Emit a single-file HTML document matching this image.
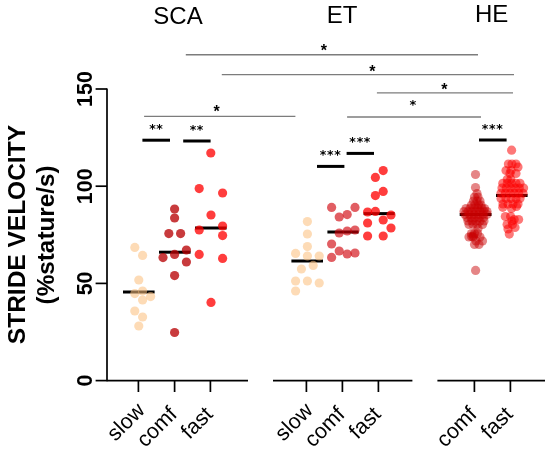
<!DOCTYPE html><html><head><meta charset="utf-8"><style>html,body{margin:0;padding:0;background:#fff;}svg{display:block;}text{font-family:"Liberation Sans",Arial,sans-serif;} text.st{font-family:"DejaVu Sans",sans-serif;font-weight:bold;}</style></head><body>
<svg width="550" height="451" viewBox="0 0 550 451">
<text x="178" y="24" font-size="24" text-anchor="middle" fill="#000">SCA</text>
<text x="342.2" y="23.4" font-size="24" text-anchor="middle" fill="#000">ET</text>
<text x="491.7" y="22" font-size="24" text-anchor="middle" fill="#000">HE</text>
<g transform="translate(25.4,234.6) rotate(-90)"><text x="0" y="0" font-size="24.5" font-weight="bold" text-anchor="middle">STRIDE VELOCITY</text></g>
<g transform="translate(53.5,234.9) rotate(-90)"><text x="0" y="0" font-size="24.3" font-weight="bold" text-anchor="middle">(%stature/s)</text></g>
<line x1="95.6" y1="89" x2="107" y2="89" stroke="#000" stroke-width="1.7"/>
<g transform="translate(92,89) rotate(-90)"><text x="0" y="0" font-size="21.5" font-weight="bold" text-anchor="middle">150</text></g>
<line x1="95.6" y1="186.2" x2="107" y2="186.2" stroke="#000" stroke-width="1.7"/>
<g transform="translate(92,186.2) rotate(-90)"><text x="0" y="0" font-size="21.5" font-weight="bold" text-anchor="middle">100</text></g>
<line x1="95.6" y1="283.4" x2="107" y2="283.4" stroke="#000" stroke-width="1.7"/>
<g transform="translate(92,283.4) rotate(-90)"><text x="0" y="0" font-size="21.5" font-weight="bold" text-anchor="middle">50</text></g>
<line x1="95.6" y1="380.6" x2="107" y2="380.6" stroke="#000" stroke-width="1.7"/>
<g transform="translate(92,380.6) rotate(-90)"><text x="0" y="0" font-size="21.5" font-weight="bold" text-anchor="middle">0</text></g>
<line x1="107" y1="88.4" x2="107" y2="381.2" stroke="#000" stroke-width="1.7"/>
<line x1="107" y1="380.6" x2="248" y2="380.6" stroke="#000" stroke-width="1.7"/>
<line x1="273" y1="380.6" x2="412.4" y2="380.6" stroke="#000" stroke-width="1.7"/>
<line x1="437.4" y1="380.6" x2="545" y2="380.6" stroke="#000" stroke-width="1.7"/>
<line x1="138.4" y1="380.6" x2="138.4" y2="392" stroke="#000" stroke-width="1.7"/>
<line x1="174.6" y1="380.6" x2="174.6" y2="392" stroke="#000" stroke-width="1.7"/>
<line x1="210.4" y1="380.6" x2="210.4" y2="392" stroke="#000" stroke-width="1.7"/>
<line x1="306.4" y1="380.6" x2="306.4" y2="392" stroke="#000" stroke-width="1.7"/>
<line x1="342.4" y1="380.6" x2="342.4" y2="392" stroke="#000" stroke-width="1.7"/>
<line x1="378.4" y1="380.6" x2="378.4" y2="392" stroke="#000" stroke-width="1.7"/>
<line x1="474.4" y1="380.6" x2="474.4" y2="392" stroke="#000" stroke-width="1.7"/>
<line x1="510.4" y1="380.6" x2="510.4" y2="392" stroke="#000" stroke-width="1.7"/>
<g transform="translate(145.9,411.5) rotate(-45)"><text x="0" y="0" font-size="21.5" text-anchor="end">slow</text></g>
<g transform="translate(178.2,415.4) rotate(-45)"><text x="0" y="0" font-size="21.5" text-anchor="end">comf</text></g>
<g transform="translate(214.0,415.4) rotate(-45)"><text x="0" y="0" font-size="21.5" text-anchor="end">fast</text></g>
<g transform="translate(313.9,411.5) rotate(-45)"><text x="0" y="0" font-size="21.5" text-anchor="end">slow</text></g>
<g transform="translate(346.0,415.4) rotate(-45)"><text x="0" y="0" font-size="21.5" text-anchor="end">comf</text></g>
<g transform="translate(382.0,415.4) rotate(-45)"><text x="0" y="0" font-size="21.5" text-anchor="end">fast</text></g>
<g transform="translate(478.0,415.4) rotate(-45)"><text x="0" y="0" font-size="21.5" text-anchor="end">comf</text></g>
<g transform="translate(514.0,415.4) rotate(-45)"><text x="0" y="0" font-size="21.5" text-anchor="end">fast</text></g>
<line x1="185.8" y1="54.7" x2="478" y2="54.7" stroke="#7c7c7c" stroke-width="1.4"/>
<line x1="221.8" y1="74.6" x2="514" y2="74.6" stroke="#7c7c7c" stroke-width="1.4"/>
<line x1="376.9" y1="92.85" x2="513" y2="92.85" stroke="#7c7c7c" stroke-width="1.4"/>
<line x1="144.1" y1="116.4" x2="295.4" y2="116.4" stroke="#7c7c7c" stroke-width="1.4"/>
<line x1="347.1" y1="117.0" x2="481" y2="117.0" stroke="#7c7c7c" stroke-width="1.4"/>
<text x="323.8" y="56.26" font-weight="bold" font-size="16" text-anchor="middle">*</text>
<text x="372.4" y="77.06" font-weight="bold" font-size="16" text-anchor="middle">*</text>
<text x="444.4" y="95.16" font-weight="bold" font-size="16" text-anchor="middle">*</text>
<text x="216.7" y="117.06" font-weight="bold" font-size="16" text-anchor="middle">*</text>
<text x="413" y="109.37" class="st" font-size="13" text-anchor="middle">*</text>
<line x1="142.4" y1="140.2" x2="170" y2="140.2" stroke="#000" stroke-width="3"/>
<line x1="183.2" y1="141" x2="210.6" y2="141" stroke="#000" stroke-width="3"/>
<line x1="317" y1="166.4" x2="344.4" y2="166.4" stroke="#000" stroke-width="3"/>
<line x1="346.6" y1="153.4" x2="374" y2="153.4" stroke="#000" stroke-width="3"/>
<line x1="479" y1="140" x2="506.6" y2="140" stroke="#000" stroke-width="3"/>
<text x="152.4" y="132.82" class="st" font-size="12.5" text-anchor="middle">*</text>
<text x="159.5" y="132.82" class="st" font-size="12.5" text-anchor="middle">*</text>
<text x="193.1" y="133.53" class="st" font-size="12.5" text-anchor="middle">*</text>
<text x="200.1" y="133.53" class="st" font-size="12.5" text-anchor="middle">*</text>
<text x="323.0" y="158.82" class="st" font-size="12.5" text-anchor="middle">*</text>
<text x="330.3" y="158.82" class="st" font-size="12.5" text-anchor="middle">*</text>
<text x="337.4" y="158.82" class="st" font-size="12.5" text-anchor="middle">*</text>
<text x="352.6" y="146.22" class="st" font-size="12.5" text-anchor="middle">*</text>
<text x="359.9" y="146.22" class="st" font-size="12.5" text-anchor="middle">*</text>
<text x="367.1" y="146.22" class="st" font-size="12.5" text-anchor="middle">*</text>
<text x="485.1" y="132.62" class="st" font-size="12.5" text-anchor="middle">*</text>
<text x="492.3" y="132.62" class="st" font-size="12.5" text-anchor="middle">*</text>
<text x="499.5" y="132.62" class="st" font-size="12.5" text-anchor="middle">*</text>
<line x1="123" y1="292" x2="154.6" y2="292" stroke="#000" stroke-width="3"/>
<line x1="159" y1="252.2" x2="190.6" y2="252.2" stroke="#000" stroke-width="3"/>
<line x1="195" y1="228" x2="226.6" y2="228" stroke="#000" stroke-width="3"/>
<line x1="291.4" y1="261" x2="323" y2="261" stroke="#000" stroke-width="3"/>
<line x1="327.4" y1="232" x2="358.6" y2="232" stroke="#000" stroke-width="3"/>
<line x1="363.6" y1="213.6" x2="394.6" y2="213.6" stroke="#000" stroke-width="3"/>
<line x1="459.7" y1="214.4" x2="491.5" y2="214.4" stroke="#000" stroke-width="3"/>
<line x1="496" y1="195.5" x2="527.6" y2="195.5" stroke="#000" stroke-width="3"/>
<g fill="#fcbe7d" fill-opacity="0.56">
<circle cx="134.8" cy="247.4" r="4.6"/>
<circle cx="142.6" cy="255.4" r="4.6"/>
<circle cx="138.8" cy="280" r="4.6"/>
<circle cx="142.6" cy="291" r="4.6"/>
<circle cx="134.8" cy="293.6" r="4.6"/>
<circle cx="150.6" cy="296.6" r="4.6"/>
<circle cx="142.6" cy="300" r="4.6"/>
<circle cx="134.8" cy="311" r="4.6"/>
<circle cx="142.6" cy="317" r="4.6"/>
<circle cx="138.8" cy="326" r="4.6"/>
</g>
<g fill="#b80003" fill-opacity="0.77">
<circle cx="174.6" cy="209" r="4.6"/>
<circle cx="174.6" cy="218" r="4.6"/>
<circle cx="168.8" cy="233.6" r="4.6"/>
<circle cx="180.6" cy="233.6" r="4.6"/>
<circle cx="186.4" cy="250" r="4.6"/>
<circle cx="174.6" cy="254.4" r="4.6"/>
<circle cx="163" cy="257.6" r="4.6"/>
<circle cx="186.4" cy="262" r="4.6"/>
<circle cx="174.6" cy="275.6" r="4.6"/>
<circle cx="174.6" cy="332.5" r="4.6"/>
</g>
<g fill="#ff0000" fill-opacity="0.76">
<circle cx="210.8" cy="153" r="4.6"/>
<circle cx="199.2" cy="188.6" r="4.6"/>
<circle cx="222.6" cy="193" r="4.6"/>
<circle cx="211" cy="215" r="4.6"/>
<circle cx="222.6" cy="226" r="4.6"/>
<circle cx="199.2" cy="230" r="4.6"/>
<circle cx="222.6" cy="235.6" r="4.6"/>
<circle cx="199.2" cy="254.4" r="4.6"/>
<circle cx="222.6" cy="258.4" r="4.6"/>
<circle cx="211" cy="302.4" r="4.6"/>
</g>
<g fill="#fcbe7d" fill-opacity="0.56">
<circle cx="307.4" cy="221.6" r="4.6"/>
<circle cx="307.4" cy="234" r="4.6"/>
<circle cx="307.4" cy="246.6" r="4.6"/>
<circle cx="295.6" cy="253.4" r="4.6"/>
<circle cx="307.4" cy="256" r="4.6"/>
<circle cx="319.2" cy="256" r="4.6"/>
<circle cx="313.2" cy="265.4" r="4.6"/>
<circle cx="301.4" cy="269" r="4.6"/>
<circle cx="295.6" cy="281" r="4.6"/>
<circle cx="307.4" cy="281" r="4.6"/>
<circle cx="319.2" cy="283" r="4.6"/>
<circle cx="295.6" cy="291" r="4.6"/>
</g>
<g fill="#cf0008" fill-opacity="0.63">
<circle cx="331.6" cy="207.4" r="4.6"/>
<circle cx="355" cy="207.4" r="4.6"/>
<circle cx="339.2" cy="217" r="4.6"/>
<circle cx="347.2" cy="214.6" r="4.6"/>
<circle cx="339.2" cy="233" r="4.6"/>
<circle cx="347.2" cy="231" r="4.6"/>
<circle cx="355" cy="230" r="4.6"/>
<circle cx="331.6" cy="244" r="4.6"/>
<circle cx="339.2" cy="251" r="4.6"/>
<circle cx="347.2" cy="254" r="4.6"/>
<circle cx="355" cy="253" r="4.6"/>
<circle cx="331.6" cy="257.4" r="4.6"/>
</g>
<g fill="#ff0000" fill-opacity="0.76">
<circle cx="383.2" cy="170.6" r="4.6"/>
<circle cx="375.4" cy="177.4" r="4.6"/>
<circle cx="383.2" cy="191.4" r="4.6"/>
<circle cx="375.4" cy="195.6" r="4.6"/>
<circle cx="367.6" cy="212" r="4.6"/>
<circle cx="375.4" cy="211.4" r="4.6"/>
<circle cx="391" cy="215" r="4.6"/>
<circle cx="367.6" cy="223" r="4.6"/>
<circle cx="383.2" cy="220" r="4.6"/>
<circle cx="391" cy="228" r="4.6"/>
<circle cx="367.6" cy="236" r="4.6"/>
<circle cx="383.2" cy="236" r="4.6"/>
</g>
<g fill="#c80002" fill-opacity="0.48">
<circle cx="475.5" cy="174.5" r="4.6"/>
<circle cx="475.5" cy="187.5" r="4.6"/>
<circle cx="477" cy="193.5" r="4.6"/>
<circle cx="474.5" cy="197" r="4.6"/>
<circle cx="478" cy="197" r="4.6"/>
<circle cx="473.5" cy="201" r="4.6"/>
<circle cx="477" cy="201" r="4.6"/>
<circle cx="480" cy="201" r="4.6"/>
<circle cx="471.5" cy="205" r="4.6"/>
<circle cx="475" cy="205" r="4.6"/>
<circle cx="478.5" cy="205" r="4.6"/>
<circle cx="481" cy="205" r="4.6"/>
<circle cx="466" cy="208.5" r="4.6"/>
<circle cx="470" cy="208.5" r="4.6"/>
<circle cx="474" cy="208.5" r="4.6"/>
<circle cx="478" cy="208.5" r="4.6"/>
<circle cx="482" cy="208.5" r="4.6"/>
<circle cx="484.5" cy="208.5" r="4.6"/>
<circle cx="464" cy="211.5" r="4.6"/>
<circle cx="468" cy="211.5" r="4.6"/>
<circle cx="472" cy="211.5" r="4.6"/>
<circle cx="476" cy="211.5" r="4.6"/>
<circle cx="480" cy="211.5" r="4.6"/>
<circle cx="484" cy="211.5" r="4.6"/>
<circle cx="487" cy="211.5" r="4.6"/>
<circle cx="465" cy="214.5" r="4.6"/>
<circle cx="469.5" cy="214.5" r="4.6"/>
<circle cx="474" cy="214.5" r="4.6"/>
<circle cx="478.5" cy="214.5" r="4.6"/>
<circle cx="483" cy="214.5" r="4.6"/>
<circle cx="487" cy="214.5" r="4.6"/>
<circle cx="467" cy="217.5" r="4.6"/>
<circle cx="471" cy="217.5" r="4.6"/>
<circle cx="475" cy="217.5" r="4.6"/>
<circle cx="479" cy="217.5" r="4.6"/>
<circle cx="483.5" cy="217.5" r="4.6"/>
<circle cx="468" cy="221" r="4.6"/>
<circle cx="472" cy="221" r="4.6"/>
<circle cx="476" cy="221" r="4.6"/>
<circle cx="480" cy="221" r="4.6"/>
<circle cx="484" cy="221" r="4.6"/>
<circle cx="469" cy="224.5" r="4.6"/>
<circle cx="473" cy="224.5" r="4.6"/>
<circle cx="477" cy="224.5" r="4.6"/>
<circle cx="482.5" cy="224.5" r="4.6"/>
<circle cx="478" cy="228.5" r="4.6"/>
<circle cx="471.5" cy="233.5" r="4.6"/>
<circle cx="474.5" cy="233.5" r="4.6"/>
<circle cx="477.5" cy="233.5" r="4.6"/>
<circle cx="473.5" cy="235.8" r="4.6"/>
<circle cx="471.5" cy="236.5" r="4.6"/>
<circle cx="469" cy="237" r="4.6"/>
<circle cx="473" cy="237" r="4.6"/>
<circle cx="480" cy="237" r="4.6"/>
<circle cx="476" cy="241" r="4.6"/>
<circle cx="482.5" cy="241" r="4.6"/>
<circle cx="474.5" cy="244.5" r="4.6"/>
<circle cx="479" cy="244.5" r="4.6"/>
<circle cx="475.6" cy="270.4" r="4.6"/>
</g>
<g fill="#fc0000" fill-opacity="0.53">
<circle cx="511.6" cy="150.2" r="4.6"/>
<circle cx="508.4" cy="164" r="4.6"/>
<circle cx="512" cy="164" r="4.6"/>
<circle cx="516" cy="164" r="4.6"/>
<circle cx="518" cy="167" r="4.6"/>
<circle cx="506" cy="170.5" r="4.6"/>
<circle cx="511" cy="170.5" r="4.6"/>
<circle cx="510" cy="173.5" r="4.6"/>
<circle cx="516" cy="173.5" r="4.6"/>
<circle cx="507.3" cy="179.3" r="4.6"/>
<circle cx="510.8" cy="179.3" r="4.6"/>
<circle cx="502.8" cy="183.3" r="4.6"/>
<circle cx="507.3" cy="183.3" r="4.6"/>
<circle cx="511.6" cy="183.3" r="4.6"/>
<circle cx="516" cy="183.3" r="4.6"/>
<circle cx="520" cy="183.3" r="4.6"/>
<circle cx="502" cy="188" r="4.6"/>
<circle cx="506.3" cy="188" r="4.6"/>
<circle cx="510.6" cy="188" r="4.6"/>
<circle cx="515" cy="188" r="4.6"/>
<circle cx="519.3" cy="188" r="4.6"/>
<circle cx="523.6" cy="188" r="4.6"/>
<circle cx="501" cy="193.3" r="4.6"/>
<circle cx="505.4" cy="193.3" r="4.6"/>
<circle cx="509.8" cy="193.3" r="4.6"/>
<circle cx="514.2" cy="193.3" r="4.6"/>
<circle cx="518.6" cy="193.3" r="4.6"/>
<circle cx="523" cy="193.3" r="4.6"/>
<circle cx="501" cy="198.5" r="4.6"/>
<circle cx="506" cy="198.5" r="4.6"/>
<circle cx="511" cy="198.5" r="4.6"/>
<circle cx="516" cy="198.5" r="4.6"/>
<circle cx="520" cy="198.5" r="4.6"/>
<circle cx="503" cy="204" r="4.6"/>
<circle cx="508" cy="204" r="4.6"/>
<circle cx="513" cy="204" r="4.6"/>
<circle cx="518" cy="204" r="4.6"/>
<circle cx="502.8" cy="207.3" r="4.6"/>
<circle cx="511.5" cy="208.5" r="4.6"/>
<circle cx="516.5" cy="206.5" r="4.6"/>
<circle cx="512" cy="221" r="4.6"/>
<circle cx="508" cy="229" r="4.6"/>
<circle cx="505.3" cy="216.5" r="4.6"/>
<circle cx="510.6" cy="216.5" r="4.6"/>
<circle cx="514.2" cy="219.5" r="4.6"/>
<circle cx="518.6" cy="219.5" r="4.6"/>
<circle cx="507.1" cy="224.5" r="4.6"/>
<circle cx="512.4" cy="224.5" r="4.6"/>
<circle cx="515" cy="227.5" r="4.6"/>
<circle cx="509.3" cy="234.1" r="4.6"/>
</g>
</svg></body></html>
